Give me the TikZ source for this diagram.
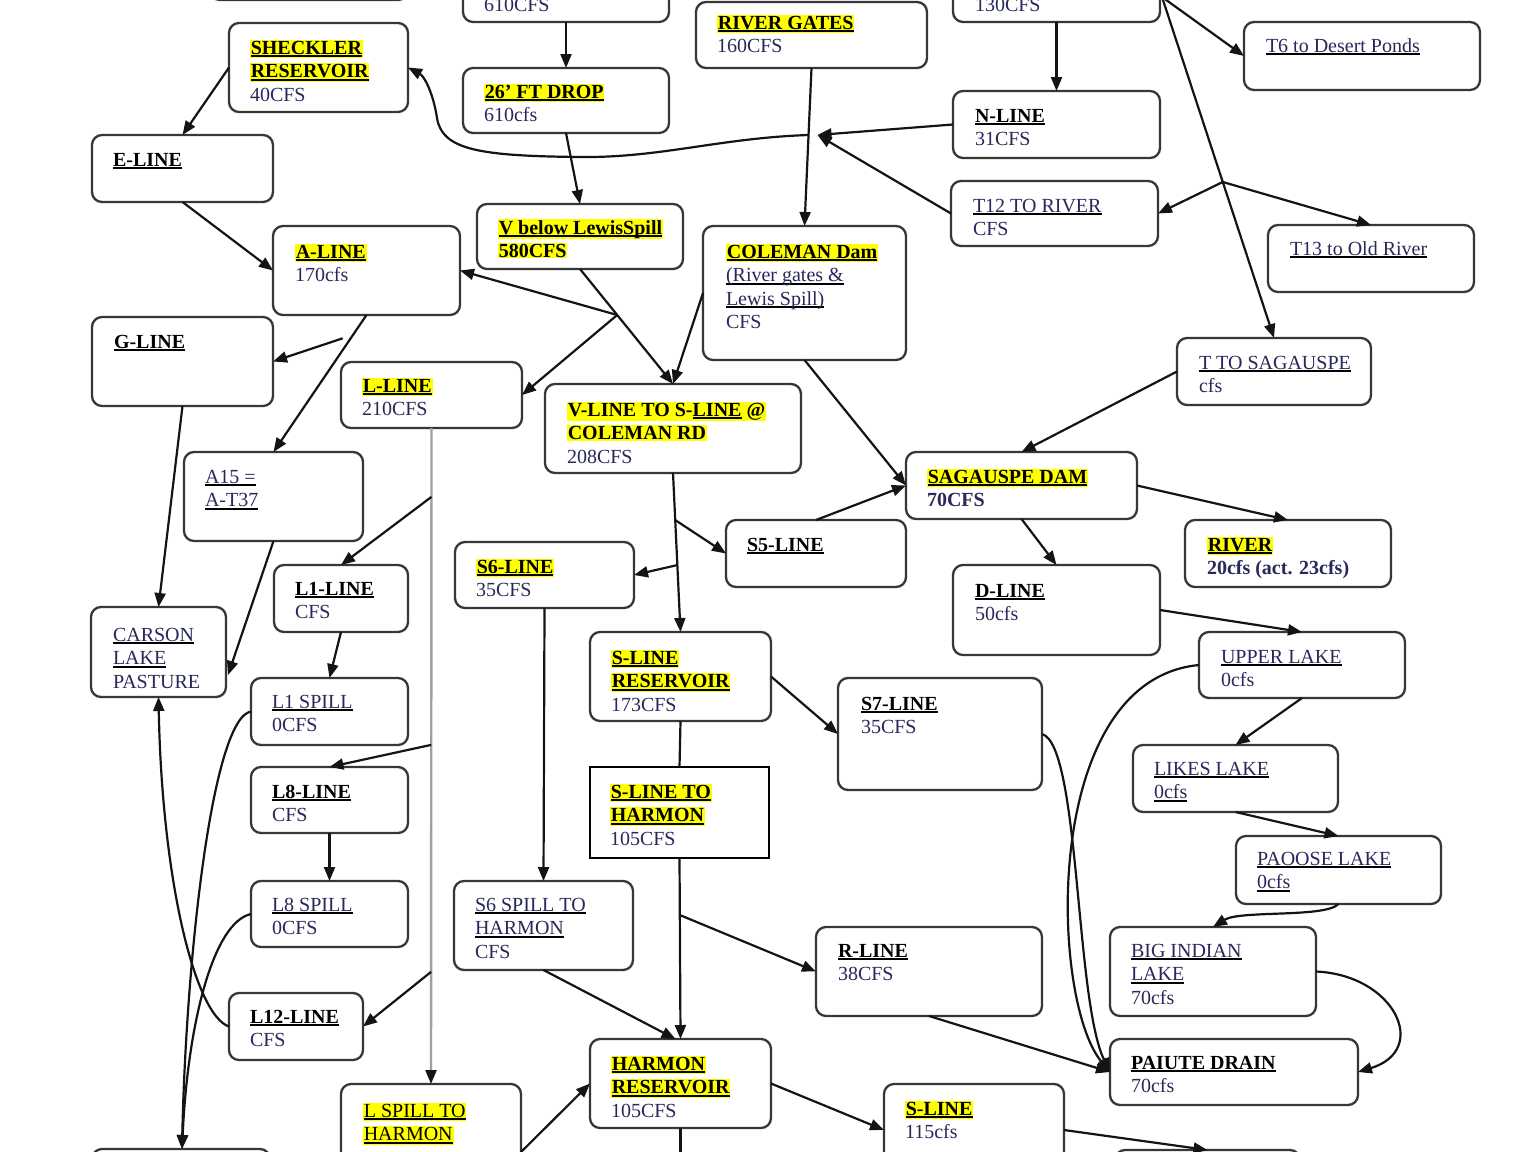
\documentclass[tikz,border=0pt]{standalone}
\usepackage{fontspec}
\setmainfont{Liberation Serif}
\usetikzlibrary{arrows.meta,calc}
\definecolor{valc}{RGB}{40,40,90}
\definecolor{edgec}{RGB}{20,20,20}
\definecolor{boxc}{RGB}{55,55,55}
\definecolor{hly}{RGB}{255,255,0}
\newcommand\ulx[1]{\leavevmode\setbox0=\hbox{#1}\rlap{\color{black}\rule[-3.2pt]{\wd0}{1.9pt}}\box0\relax}
\newcommand\hlx[1]{{\setlength\fboxsep{0.8pt}\colorbox{hly}{#1}}}
\newcommand\HT[1]{\hlx{\ulx{\bfseries #1}}}
\newcommand\HB[1]{\hlx{\bfseries #1}}
\newcommand\BT[1]{\ulx{\bfseries #1}}
\newcommand\UT[1]{\ulx{\color{valc}#1}}
\newcommand\VL[1]{{\color{valc}#1}}
\newcommand\VB[1]{{\color{valc}\bfseries #1}}
\tikzset{
 boxst/.style={draw=boxc,line width=2.3pt,rounded corners=10pt,inner sep=0pt,outer sep=0pt,fill=white},
 sqbox/.style={rounded corners=0pt,draw=black,line width=2.5pt},
 txt/.style={inner sep=0pt,outer sep=0pt,align=left,font=\fontsize{20}{23.5}\selectfont,text=black},
 arr/.style={draw=edgec,line width=2.2pt,-{Triangle[length=14pt,width=11pt]}},
 ln/.style={draw=edgec,line width=2.2pt},
 grayarr/.style={draw=gray!75,line width=2.4pt,-{Triangle[length=14pt,width=11pt,color=edgec]}}
}
% [opts]{name}{x1}{y1}{x2}{y2}{text x}{first baseline}{text}
\newcommand\bx[9][]{%
 \node[boxst,#1,minimum width={(#5)-(#3)},minimum height={(#6)-(#4)},anchor=north west] (#2) at (#3,#4) {};
 \node[txt,anchor=north west] (#2-t) at (#7,{#8-16}) {\rule{0pt}{16pt}#9};
}
\begin{document}
\begin{tikzpicture}[x=1pt,y=-1pt]
\useasboundingbox (0,0) rectangle (1530,1151);
\fill[white] (0,0) rectangle (1530,1151);
\clip (0,0) rectangle (1530,1151);

% partial boxes at the edges
\node[boxst,minimum width=198,minimum height=60,anchor=south west] (topl) at (210,0) {};
\bx{t610}{463}{-45}{669}{22}{484}{11}{\VL{610CFS}}
\bx{t130}{953}{-45}{1160}{22}{975}{11}{\VL{130CFS}}
\node[boxst,minimum width=178,minimum height=80,anchor=north west] (botl) at (92,1149) {};
\node[boxst,minimum width=185,minimum height=80,anchor=north west] (botr) at (1115,1150) {};

% boxes
\bx{rgate}{696}{2}{927}{68}{717}{29}{\HT{RIVER GATES}\\ \VL{160CFS}}
\bx{t6}{1244}{22}{1480}{90}{1266}{52}{\UT{T6 to Desert Ponds}}
\bx{sheck}{229}{23}{408}{112}{250}{54}{\HT{SHECKLER}\\ \HT{RESERVOIR}\\ \VL{40CFS}}
\bx{drop}{463}{68}{669}{133}{484}{98}{\HT{26’ FT DROP}\\ \VL{610cfs}}
\bx{nline}{953}{91}{1160}{158}{975}{122}{\BT{N-LINE}\\ \VL{31CFS}}
\bx{eline}{92}{135}{273}{202}{113}{166}{\BT{E-LINE}}
\bx{t12}{951}{181}{1158}{246}{973}{212}{\UT{T12 TO RIVER}\\ \VL{CFS}}
\bx{vbelow}{477}{204}{683}{269}{498}{234}{\HT{V below LewisSpill}\\ \HB{580CFS}}
\bx{aline}{273}{226}{460}{315}{295}{258}{\HT{A-LINE}\\ \VL{170cfs}}
\bx{coleman}{703}{226}{906}{360}{726}{258}{\HT{COLEMAN Dam}\\ \UT{(River gates \&}\\ \UT{Lewis Spill)}\\ \VL{CFS}}
\bx{t13}{1268}{225}{1474}{292}{1290}{255}{\UT{T13 to Old River}}
\bx{gline}{92}{317}{273}{406}{114}{348}{\BT{G-LINE}}
\bx{tsag}{1177}{338}{1371}{405}{1199}{369}{\UT{T TO SAGAUSPE}\\ \VL{cfs}}
\bx{lline}{341}{362}{522}{428}{362}{392}{\HT{L-LINE}\\ \VL{210CFS}}
\bx{vline}{545}{384}{801}{473}{567}{416}{\hlx{\bfseries V-LINE TO S-\ulx{LINE} @}\\ \HB{COLEMAN RD}\\ \VL{208CFS}}
\bx{a15}{184}{452}{363}{541}{205}{483}{\UT{A15 =}\\ \UT{A-T37}}
\bx{sagdam}{906}{452}{1137}{519}{927}{483}{\HT{SAGAUSPE DAM}\\ \VB{70CFS}}
\bx{s5}{726}{520}{906}{587}{747}{551}{\BT{S5-LINE}}
\bx{river}{1185}{520}{1391}{587}{1207}{551}{\HT{RIVER}\\ \VB{20cfs (act. 23cfs)}}
\bx{s6}{455}{542}{634}{608}{476}{573}{\HT{S6-LINE}\\ \VL{35CFS}}
\bx{dline}{953}{565}{1160}{655}{975}{597}{\BT{D-LINE}\\ \VL{50cfs}}
\bx{l1}{274}{565}{408}{632}{295}{595}{\BT{L1-LINE}\\ \VL{CFS}}
\bx{carson}{91}{607}{226}{697}{113}{641}{\UT{CARSON}\\ \UT{LAKE}\\ \VL{PASTURE}}
\bx{sres}{590}{632}{771}{721}{611}{664}{\HT{S-LINE}\\ \HT{RESERVOIR}\\ \VL{173CFS}}
\bx{upper}{1199}{632}{1405}{698}{1221}{663}{\UT{UPPER LAKE}\\ \VL{0cfs}}
\bx{l1sp}{251}{678}{408}{745}{272}{708}{\UT{L1 SPILL}\\ \VL{0CFS}}
\bx{s7}{838}{678}{1042}{790}{861}{710}{\BT{S7-LINE}\\ \VL{35CFS}}
\bx{likes}{1133}{745}{1338}{812}{1154}{775}{\UT{LIKES LAKE}\\ \UT{0cfs}}
\bx[sqbox]{sharm}{590}{767}{769}{858}{610}{798}{\HT{S-LINE TO}\\ \HT{HARMON}\\ \VL{105CFS}}
\bx{l8}{251}{767}{408}{833}{272}{798}{\BT{L8-LINE}\\ \VL{CFS}}
\bx{paoose}{1236}{836}{1441}{904}{1257}{865}{\UT{PAOOSE LAKE}\\ \UT{0cfs}}
\bx{l8sp}{251}{881}{408}{947}{272}{911}{\UT{L8 SPILL}\\ \VL{0CFS}}
\bx{s6sp}{454}{881}{633}{970}{475}{911}{\UT{S6 SPILL TO}\\ \UT{HARMON}\\ \VL{CFS}}
\bx{rline}{816}{927}{1042}{1016}{838}{957}{\BT{R-LINE}\\ \VL{38CFS}}
\bx{bigind}{1110}{927}{1316}{1016}{1131}{957}{\UT{BIG INDIAN}\\ \UT{LAKE}\\ \VL{70cfs}}
\bx{l12}{229}{993}{363}{1060}{250}{1023}{\BT{L12-LINE}\\ \VL{CFS}}
\bx{harmon}{590}{1039}{771}{1128}{611}{1070}{\HT{HARMON}\\ \HT{RESERVOIR}\\ \VL{105CFS}}
\bx{paiute}{1110}{1039}{1358}{1105}{1131}{1069}{\BT{PAIUTE DRAIN}\\ \VL{70cfs}}
\bx{sline2}{884}{1084}{1064}{1176}{905}{1115}{\HT{S-LINE}\\ \VL{115cfs}}
\bx{lspill}{341}{1084}{521}{1220}{363}{1117}{\hlx{\ulx{L SPILL TO}}\\ \hlx{\ulx{HARMON}}}

% connectors
\coordinate (t130e) at ($(t130.north east)+(2,42)$);
\draw[arr] (t610.south) -- (drop.north);
\draw[arr] (t130.south) -- (nline.north);
\draw[arr] (t130e) -- (t6.west);
\draw[arr] (t130e) -- (tsag.north);
\coordinate (br1) at ($(t130e)!0.5425!(tsag.north)$);
\draw[arr] (br1) -- (t12.east);
\draw[arr] (br1) -- (t13.north);
\draw[arr] (rgate.south) -- (coleman.north);
\coordinate (j1) at ($(rgate.south)!0.424!(coleman.north)$);
\coordinate (j1r) at ($(j1)+(9,0)$);
\draw[arr] (nline.west) -- (j1r);
\draw[arr] (t12.west) -- (j1r);
\draw[arr] (j1) .. controls (720,138) and (660,158) .. (580,157) .. controls (480,156) and (442,150) .. (437,118) .. controls (433,92) and (424,76) .. (sheck.east);
\draw[arr] (sheck.west) -- (eline.north);
\draw[arr] (drop.south) -- (vbelow.north);
\draw[arr] (eline.south) -- (aline.west);
\draw[arr] (vbelow.south) -- (vline.north);
\coordinate (j2) at ($(vbelow.south)!0.4!(vline.north)$);
\draw[arr] (j2) -- (aline.east);
\draw[arr] (j2) -- (lline.east);
\draw[arr] (coleman.west) -- (vline.north);
\draw[arr] (coleman.south) -- (sagdam.west);
\draw[arr] (aline.south) -- (a15.north);
\coordinate (j3) at ($(aline.south)!0.17!(a15.north)$);
\coordinate (j3l) at ($(j3)+(-8,0)$);
\draw[arr] (j3l) -- (gline.east);
\draw[arr] (gline.south) -- (carson.north);
\coordinate (carsonin) at ($(carson.south east)+(2,-22)$);
\draw[arr] (a15.south) -- (carsonin);
\draw[grayarr] (lline.south) -- (lspill.north);
\coordinate (jL1) at ($(lline.south)!0.105!(lspill.north)$);
\coordinate (jL8) at ($(lline.south)!0.483!(lspill.north)$);
\coordinate (jL12) at ($(lline.south)!0.829!(lspill.north)$);
\draw[arr] (jL1) -- (l1.north);
\draw[arr] (jL8) -- (l8.north);
\draw[arr] (jL12) -- (l12.east);
\draw[arr] (l1.south) -- (l1sp.north);
\draw[arr] (l8.south) -- (l8sp.north);
\coordinate (botlin) at ($(botl.north west)+(90,0)$);
\draw[arr] (l1sp.west) .. controls (212,718) and (186,960) .. (botlin);
\draw[arr] (l8sp.west) .. controls (214,922) and (188,1020) .. (botlin);
\draw[arr] (l12.west) .. controls (195,1015) and (162,880) .. (carson.south);
\draw[arr] (vline.south) -- (sres.north);
\coordinate (jS5) at ($(vline.south)!0.296!(sres.north)$);
\coordinate (jS6) at ($(vline.south)!0.579!(sres.north)$);
\draw[arr] (jS5) -- (s5.west);
\draw[arr] (jS6) -- (s6.east);
\draw[arr] (s5.north) -- (sagdam.west);
\draw[arr] (tsag.west) -- (sagdam.north);
\draw[arr] (sagdam.east) -- (river.north);
\draw[arr] (sagdam.south) -- (dline.north);
\draw[arr] (dline.east) -- (upper.north);
\draw[arr] (upper.south) -- (likes.north);
\draw[arr] (likes.south) -- (paoose.north);
\draw[arr] (paoose.south) .. controls (1325,918) and (1240,910) .. (bigind.north);
\draw[arr] (bigind.east) .. controls (1395,975) and (1430,1050) .. (paiute.east);
\draw[arr] (upper.west) .. controls (1040,680) and (1050,1000) .. (paiute.west);
\draw[arr] (s7.east) .. controls (1080,745) and (1075,1000) .. (paiute.west);
\draw[arr] (rline.south) -- (paiute.west);
\draw[arr] (s6.south) -- (s6sp.north);
\draw[arr] (sres.east) -- (s7.west);
\draw[ln] (sres.south) -- (sharm.north);
\draw[arr] (sharm.south) -- (harmon.north);
\coordinate (jR) at ($(sharm.south)!0.315!(harmon.north)$);
\draw[arr] (jR) -- (rline.west);
\coordinate (harmonin) at ($(harmon.north)+(-5,0)$);
\draw[arr] (s6sp.south) -- (harmonin);
\draw[arr] (lspill.east) -- (harmon.west);
\draw[arr] (harmon.east) -- (sline2.west);
\coordinate (hbot) at ($(harmon.south)+(0,40)$);
\draw[ln] (harmon.south) -- (hbot);
\draw[arr] (sline2.east) -- (botr.north);
\end{tikzpicture}
\end{document}
